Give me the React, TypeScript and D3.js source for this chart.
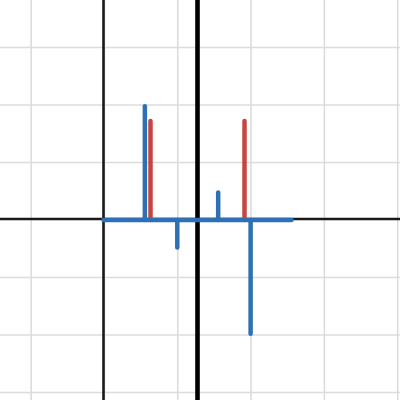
import * as d3 from "d3"
import { useEffect, useRef } from "react"

// grid positions (x units along the baseline, y units up)
const gridX = [-1.77, -0.99, -0.21, 0.57, 1.35, 2.13]
const gridY = [-3, -2, -1, 1, 2, 3]

// blue stems and the baseline they stand on
const blueX = [-0.56, -0.215, 0.22, 0.565]
const blueValues = [1.98, -0.48, 0.48, -1.98]
const baseline = [-1, 1]

// red stems
const redX = [-0.5, 0.5]
const redValues = [1.72, 1.72]

// extra vertical line left of the y axis
const markerX = [-1]

const App = () => {
  const svgRef = useRef<SVGSVGElement | null>(null)

  useEffect(() => {
    if (!svgRef.current) return
    const size = 400
    const svg = d3.select(svgRef.current)
    svg.selectAll("*").remove()
    svg.attr("width", size).attr("height", size).attr("viewBox", `0 0 ${size} ${size}`)

    svg.append("rect").attr("width", size).attr("height", size).attr("fill", "#ffffff")

    const x = d3.scaleLinear().domain([-1, 1]).range([103.5, 291.5])
    const y = d3.scaleLinear().domain([-3, 3]).range([392.5, 47.5])

    // Grid
    svg
      .append("g")
      .selectAll("line")
      .data(gridX)
      .enter()
      .append("line")
      .attr("x1", (d) => x(d))
      .attr("x2", (d) => x(d))
      .attr("y1", 0)
      .attr("y2", size)
      .attr("stroke", "#dcdcdc")
      .attr("stroke-width", 1.6)

    svg
      .append("g")
      .selectAll("line")
      .data(gridY)
      .enter()
      .append("line")
      .attr("x1", 0)
      .attr("x2", size)
      .attr("y1", (d) => y(d))
      .attr("y2", (d) => y(d))
      .attr("stroke", "#dcdcdc")
      .attr("stroke-width", 1.6)

    // Axes
    svg
      .append("line")
      .attr("x1", 0)
      .attr("x2", size)
      .attr("y1", y(0) - 1)
      .attr("y2", y(0) - 1)
      .attr("stroke", "#1a1a1a")
      .attr("stroke-width", 2.6)

    svg
      .selectAll(".marker")
      .data(markerX)
      .enter()
      .append("line")
      .attr("class", "marker")
      .attr("x1", (d) => x(d))
      .attr("x2", (d) => x(d))
      .attr("y1", 0)
      .attr("y2", size)
      .attr("stroke", "#1a1a1a")
      .attr("stroke-width", 2.6)

    svg
      .append("line")
      .attr("x1", x(0))
      .attr("x2", x(0))
      .attr("y1", 0)
      .attr("y2", size)
      .attr("stroke", "#000000")
      .attr("stroke-width", 4.6)

    // Red stems
    svg
      .selectAll(".red-stem")
      .data(redX)
      .enter()
      .append("line")
      .attr("class", "red-stem")
      .attr("x1", (d) => x(d))
      .attr("x2", (d) => x(d))
      .attr("y1", y(0))
      .attr("y2", (d, i) => y(redValues[i]))
      .attr("stroke", "#c74440")
      .attr("stroke-width", 4.5)
      .attr("stroke-linecap", "round")

    // Blue baseline
    svg
      .append("line")
      .attr("x1", x(baseline[0]))
      .attr("x2", x(baseline[1]))
      .attr("y1", y(0))
      .attr("y2", y(0))
      .attr("stroke", "#2d70b3")
      .attr("stroke-width", 4.5)
      .attr("stroke-linecap", "round")

    // Blue stems
    svg
      .selectAll(".blue-stem")
      .data(blueX)
      .enter()
      .append("line")
      .attr("class", "blue-stem")
      .attr("x1", (d) => x(d))
      .attr("x2", (d) => x(d))
      .attr("y1", y(0))
      .attr("y2", (d, i) => y(blueValues[i]))
      .attr("stroke", "#2d70b3")
      .attr("stroke-width", 4.5)
      .attr("stroke-linecap", "round")
  }, [])

  return (
    <svg
      ref={svgRef}
      style={{ position: "fixed", left: 0, top: 0, display: "block" }}
    />
  )
}

export default App
